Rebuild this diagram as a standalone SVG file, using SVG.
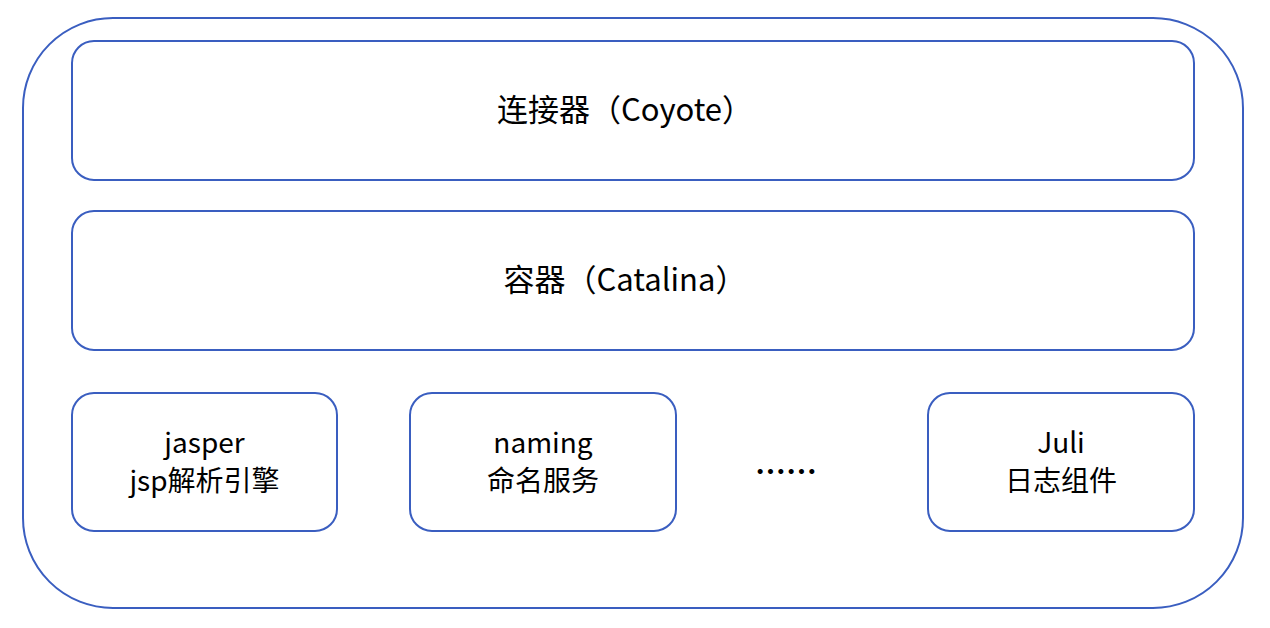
<svg xmlns="http://www.w3.org/2000/svg" width="1270" height="628" viewBox="0 0 1270 628">
<style>
.box{fill:#fff;stroke:#3a5ec0;stroke-width:2}
.t{font-family:"Noto Sans CJK SC","Liberation Sans",sans-serif;font-size:31px;fill:#000;text-anchor:middle}
.s{font-size:28px}
</style>
<rect width="1270" height="628" fill="#fff"/>
<g id="outer"><rect class="box" x="23" y="18" width="1220" height="590" rx="90" ry="90"/></g>
<g id="coyote"><rect class="box" x="72" y="41" width="1122" height="139" rx="22" ry="22"/><text class="t" x="625" y="121">连接器（Coyote）</text></g>
<g id="catalina"><rect class="box" x="72" y="211" width="1122" height="139" rx="22" ry="22"/><text class="t" x="625" y="291">容器（Catalina）</text></g>
<g id="jasper"><rect class="box" x="72" y="393" width="265" height="138" rx="22" ry="22"/><text class="t s" x="204.5" y="453">jasper</text><text class="t s" x="204.5" y="491">jsp解析引擎</text></g>
<g id="naming"><rect class="box" x="410" y="393" width="266" height="138" rx="22" ry="22"/><text class="t s" x="543" y="453">naming</text><text class="t s" x="543" y="491">命名服务</text></g>
<g id="dots"><text class="t" x="786" y="483" font-weight="bold" font-size="32">……</text></g>
<g id="juli"><rect class="box" x="928" y="393" width="266" height="138" rx="22" ry="22"/><text class="t s" x="1061" y="453">Juli</text><text class="t s" x="1061" y="491">日志组件</text></g>
<g id="connectors"></g>
</svg>
